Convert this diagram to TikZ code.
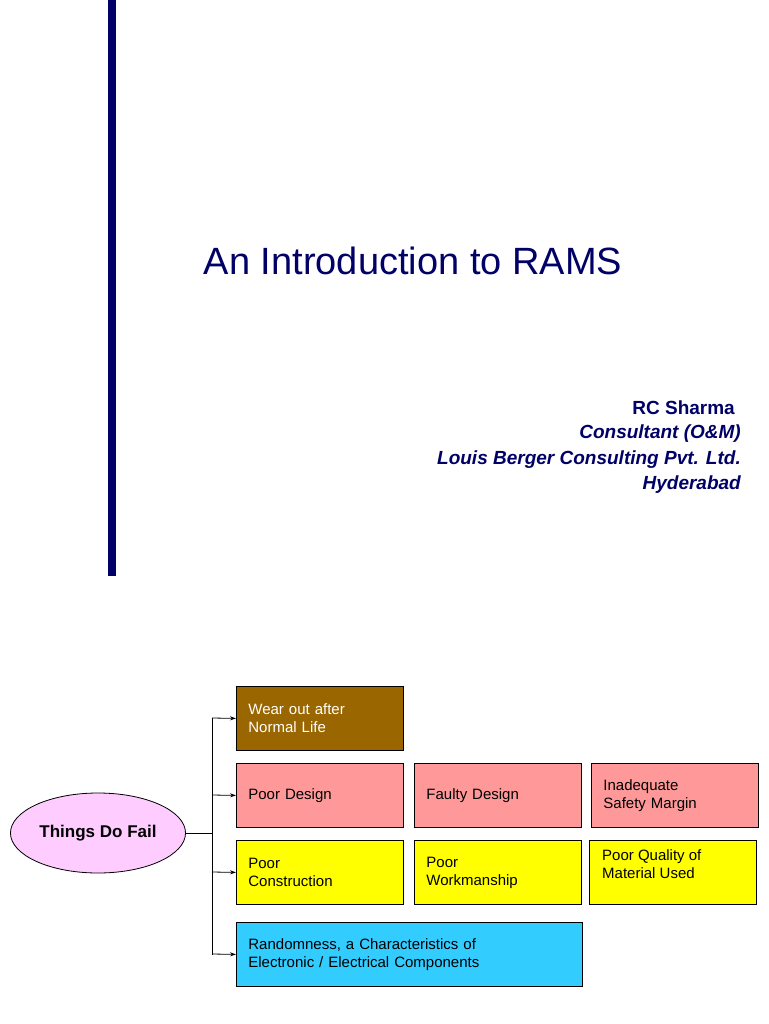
\documentclass[tikz,border=0pt]{standalone}
\usepackage{fontspec}
\setmainfont{Liberation Sans}
\usetikzlibrary{arrows.meta,shapes.geometric}
\definecolor{navy}{HTML}{000066}
\definecolor{brownbox}{HTML}{996600}
\definecolor{pinkbox}{HTML}{FF9999}
\definecolor{yelbox}{HTML}{FFFF00}
\definecolor{cyanbox}{HTML}{33CCFF}
\definecolor{ellpink}{HTML}{FFCCFF}
\begin{document}
\begin{tikzpicture}[x=1pt,y=-1pt,
  box/.style={draw=black,line width=0.8pt,anchor=north west,minimum height=64pt,text width=#1,align=left,inner xsep=12pt,font=\fontsize{15}{18}\selectfont},
  box/.default=143pt,
  conn/.style={line width=0.8pt,-{Stealth[length=6pt,width=4pt]}},
  sub/.style={anchor=east,text=navy,font=\fontsize{19}{22}\selectfont\bfseries\itshape,inner sep=0pt}]
\useasboundingbox (0,0) rectangle (768,1024);
\fill[navy] (108,0) rectangle (116,576);
\node[text=navy,font=\fontsize{38}{44}\selectfont] (title) at (413,261) {An Introduction to RAMS};
\node[sub,font=\fontsize{19}{22}\selectfont\bfseries] (a1) at (735,408) {RC Sharma};
\node[sub] (a2) at (741,434) {Consultant (O\&M)};
\node[sub] (a3) at (741,460) {Louis Berger Consulting Pvt. Ltd.};
\node[sub] (a4) at (741,485) {Hyderabad};
\node[draw,ellipse,fill=ellpink,line width=0.8pt,minimum width=174pt,minimum height=80pt,font=\fontsize{17}{20}\selectfont\bfseries] (e) at (98,833) {Things Do Fail};
\node[box,fill=brownbox,text=white] (b1) at (236,686) {Wear out after\\Normal Life};
\node[box,fill=pinkbox] (b2) at (236,763) {Poor Design};
\node[box,fill=pinkbox] (b3) at (414,763) {Faulty Design};
\node[box,fill=pinkbox] (b4) at (591,763) {Inadequate\\Safety Margin};
\node[box,fill=yelbox] (b5) at (236,840) {Poor\\Construction};
\node[box,fill=yelbox] (b6) at (414,840) {Poor\\Workmanship};
\draw[fill=yelbox,line width=0.8pt] (589,840) rectangle (756,904);
\node[anchor=north west,align=left,font=\fontsize{15}{18}\selectfont,inner sep=0pt] (b7) at (602,849) {Poor Quality of\\Material Used};
\node[box=322pt,fill=cyanbox] (b8) at (236,922) {Randomness, a Characteristics of\\Electronic / Electrical Components};
\coordinate (j) at (212,833);
\draw[line width=0.8pt] (e.east) -- (j);
\draw[line width=0.8pt] (212,718) -- (212,955);
\draw[conn] (212,718) -- (b1.west);
\draw[conn] (212,795) -- (b2.west);
\draw[conn] (212,872) -- (b5.west);
\draw[conn] (212,954) -- (b8.west);
\end{tikzpicture}
\end{document}
